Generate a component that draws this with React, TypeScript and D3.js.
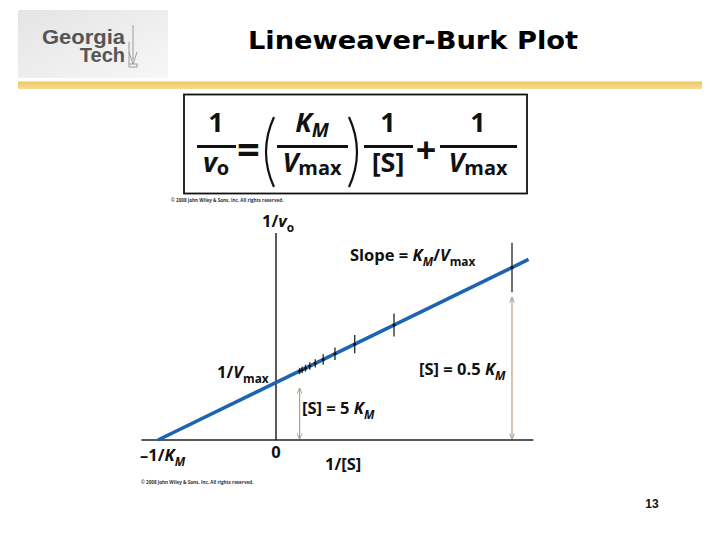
import React from "react";
import * as d3 from "d3";

// ---- data (arbitrary units: K_M = 1, V_max = 1) ----
const invS: number[] = [2, 1, 0.667, 0.5, 0.4, 0.333, 0.286, 0.25, 0.222, 0.2]; // 1/[S] in units of 1/K_M
const invV: number[] = [3, 2, 1.667, 1.5, 1.4, 1.333, 1.286, 1.25, 1.222, 1.2]; // 1/v_o in units of 1/V_max
const errHalf: number[] = [0.43, 0.2, 0.16, 0.11, 0.09, 0.07, 0.065, 0.06, 0.055, 0.055];
const lineX: number[] = [-1, 2.14];
const lineY: number[] = [0, 3.14];
const arrowX: number[] = [0.2, 2];
const arrowTop: number[] = [0.9, 2.48];
const xAxisExtent: number[] = [-1.14, 2.18];
const yAxisTop = 3.6;

const SANS = "'Open Sans', 'DejaVu Sans', sans-serif";

type Seg = { t: string; it?: boolean; sub?: boolean };

function Rich({ x, y, segs, size, anchor = "start", sub = 0.72, shift = 0.3 }: { x: number; y: number; segs: Seg[]; size: number; anchor?: string; sub?: number; shift?: number }) {
  let inSub = false;
  const ds = size * shift;
  return (
    <text x={x} y={y} fontFamily={SANS} fontWeight={700} fontSize={size} textAnchor={anchor} fill="#111">
      {segs.map((s, i) => {
        let dy = 0;
        if (s.sub && !inSub) dy = ds;
        if (!s.sub && inSub) dy = -ds;
        inSub = !!s.sub;
        return (
          <tspan key={i} dy={dy} fontStyle={s.it ? "italic" : "normal"} fontSize={s.sub ? size * sub : size}>
            {s.t}
          </tspan>
        );
      })}
    </text>
  );
}

function Frac({ cx, num, den, x0, x1 }: { cx: number; num: Seg[]; den: Seg[]; x0: number; x1: number }) {
  return (
    <g>
      <Rich x={cx} y={132} segs={num} size={27} anchor="middle" sub={0.72} shift={0.2} />
      <line x1={x0} x2={x1} y1={146.5} y2={146.5} stroke="#111" strokeWidth={2.8} />
      <Rich x={cx} y={172} segs={den} size={27} anchor="middle" sub={0.74} shift={0.1} />
    </g>
  );
}

export default function App() {
  const x = d3.scaleLinear().domain([-1, 0]).range([158, 276]);
  const y = d3.scaleLinear().domain([0, 1]).range([440, 382.5]);
  const line = d3.line<number>().x((d) => x(lineX[d])).y((d) => y(lineY[d]));
  const arrowColor = "#b49c86";
  const LAB = 16.5;

  return (
    <svg width={720} height={540} style={{ position: "absolute", left: 0, top: 0, background: "#fff" }}>
      <defs>
        <linearGradient id="gold" x1="0" y1="0" x2="0" y2="1">
          <stop offset="0" stopColor="#eec65e" />
          <stop offset="1" stopColor="#f6dc96" />
        </linearGradient>
        <linearGradient id="logo" x1="0" y1="0" x2="1" y2="1">
          <stop offset="0" stopColor="#e4e4e4" />
          <stop offset="1" stopColor="#f7f7f7" />
        </linearGradient>
        <marker id="ah" viewBox="0 0 10 10" refX="9" refY="5" markerWidth="5" markerHeight="6" orient="auto-start-reverse">
          <path d="M0,1 L10,5 L0,9" fill="none" stroke={arrowColor} strokeWidth={1.6} />
        </marker>
      </defs>

      {/* header */}
      <rect x={18} y={10} width={150} height={68} fill="url(#logo)" />
      <text x={42} y={44} textLength={83} lengthAdjust="spacingAndGlyphs" fontFamily="'Liberation Sans', Arial, sans-serif" fontWeight={700} fontSize={20} fill="#555">Georgia</text>
      <text x={125} y={62} textAnchor="end" fontFamily="'Liberation Sans', Arial, sans-serif" fontWeight={700} fontSize={20} fill="#555">Tech</text>
      <g stroke="#888" strokeWidth={0.8} fill="none">
        <line x1={133} y1={25} x2={133} y2={60} />
        <path d="M129,52 L133,64 L137,52" />
        <line x1={129} y1={42} x2={129} y2={64} />
        <rect x={129} y={64} width={8} height={3} />
      </g>
      <text x={248} y={49} textLength={330} lengthAdjust="spacingAndGlyphs" fontFamily="'DejaVu Sans', sans-serif" fontWeight={700} fontSize={24} fill="#000">Lineweaver-Burk Plot</text>
      <rect x={18} y={81.5} width={684} height={7.5} fill="url(#gold)" />

      {/* equation box */}
      <rect x={184} y={94.5} width={343} height={99} fill="none" stroke="#111" strokeWidth={1.8} />
      <Frac cx={216} x0={197} x1={236} num={[{ t: "1" }]} den={[{ t: "v", it: true }, { t: "o", sub: true }]} />
      <text x={248.5} y={164} textAnchor="middle" fontFamily={SANS} fontWeight={700} fontSize={40} fill="#111">=</text>
      <path d="M274,117 Q258,152 274,187" fill="none" stroke="#111" strokeWidth={2.2} />
      <Frac cx={312} x0={277} x1={348} num={[{ t: "K", it: true }, { t: "M", it: true, sub: true }]} den={[{ t: "V", it: true }, { t: "max", sub: true }]} />
      <path d="M349,117 Q365,152 349,187" fill="none" stroke="#111" strokeWidth={2.2} />
      <Frac cx={388} x0={364} x1={413} num={[{ t: "1" }]} den={[{ t: "[S]" }]} />
      <text x={426} y={163} textAnchor="middle" fontFamily={SANS} fontWeight={700} fontSize={36} fill="#111">+</text>
      <Frac cx={478} x0={440} x1={517} num={[{ t: "1" }]} den={[{ t: "V", it: true }, { t: "max", sub: true }]} />
      <text x={171} y={202} fontFamily={SANS} fontWeight={700} fontSize={4.6} fill="#333">© 2008 John Wiley &amp; Sons, Inc. All rights reserved.</text>

      {/* axes */}
      <line x1={x(xAxisExtent[0])} x2={x(xAxisExtent[1])} y1={y(0)} y2={y(0)} stroke="#222" strokeWidth={1.5} />
      <line x1={x(0)} x2={x(0)} y1={y(0)} y2={y(yAxisTop)} stroke="#222" strokeWidth={1.5} />

      {/* arrows */}
      {arrowX.map((ax, i) => (
        <line key={i} x1={x(ax)} x2={x(ax)} y1={y(0.02)} y2={y(arrowTop[i])} stroke={arrowColor} strokeWidth={1.2} markerStart="url(#ah)" markerEnd="url(#ah)" />
      ))}

      {/* line */}
      <path d={line([0, 1]) || ""} fill="none" stroke="#1c64b0" strokeWidth={3.6} />

      {/* data points with error bars */}
      {invS.map((s, i) => (
        <g key={i}>
          <line x1={x(s)} x2={x(s)} y1={y(invV[i] - errHalf[i])} y2={y(invV[i] + errHalf[i])} stroke="#333" strokeWidth={1.4} />
          <circle cx={x(s)} cy={y(invV[i])} r={1.5} fill="#111" />
        </g>
      ))}

      {/* labels */}
      <Rich x={262} y={227} size={LAB} segs={[{ t: "1/" }, { t: "v", it: true }, { t: "o", sub: true }]} />
      <Rich x={350} y={261} size={LAB} segs={[{ t: "Slope = " }, { t: "K", it: true }, { t: "M", it: true, sub: true }, { t: "/" }, { t: "V", it: true }, { t: "max", sub: true }]} />
      <Rich x={217} y={378} size={LAB} segs={[{ t: "1/" }, { t: "V", it: true }, { t: "max", sub: true }]} />
      <Rich x={302} y={414} size={LAB} segs={[{ t: "[S] = 5 " }, { t: "K", it: true }, { t: "M", it: true, sub: true }]} />
      <Rich x={419} y={375} size={LAB} segs={[{ t: "[S] = 0.5 " }, { t: "K", it: true }, { t: "M", it: true, sub: true }]} />
      <Rich x={140} y={461} size={LAB} segs={[{ t: "–1/" }, { t: "K", it: true }, { t: "M", it: true, sub: true }]} />
      <Rich x={x(0)} y={458} size={LAB} anchor="middle" segs={[{ t: "0" }]} />
      <Rich x={325} y={470} size={LAB} segs={[{ t: "1/[S]" }]} />
      <text x={141} y={484} fontFamily={SANS} fontWeight={700} fontSize={4.6} fill="#333">© 2008 John Wiley &amp; Sons, Inc. All rights reserved.</text>

      <text x={652} y={508} textAnchor="middle" fontFamily="'Liberation Sans', Arial, sans-serif" fontWeight={700} fontSize={12} fill="#111">13</text>
    </svg>
  );
}
